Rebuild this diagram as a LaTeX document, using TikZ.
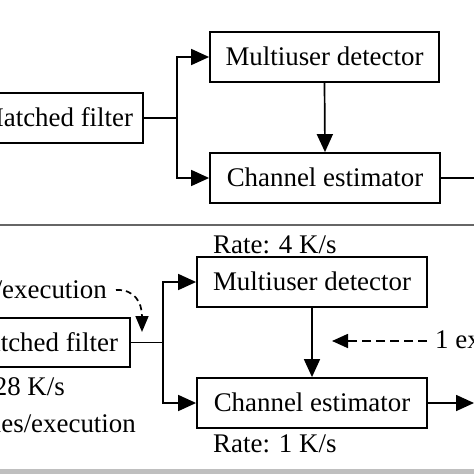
\documentclass[tikz,border=0pt]{standalone}
\usepackage{fontspec}
\setmainfont{Liberation Serif}
\usetikzlibrary{arrows.meta}
\definecolor{sepgray}{gray}{0.4}
\definecolor{bandgray}{gray}{0.75}
\begin{document}
\begin{tikzpicture}[x=1pt,y=-1pt,
  blk/.style={draw, line width=1.8pt, minimum width=229pt, minimum height=50pt, inner sep=0pt,
    text height=17.8pt, text depth=0pt, font=\fontsize{26.9}{30}\selectfont},
  lbl/.style={inner sep=0pt, font=\fontsize{26.9}{30}\selectfont},
  conn/.style={line width=1.7pt},
  arr/.style={conn, -{Triangle[length=18pt,width=16pt]}},
]
\useasboundingbox (0,0) rectangle (474,474);
\clip (0,0) rectangle (474,474);
\fill[white] (0,0) rectangle (474,474);

% ---- top diagram ----
\node[blk, minimum width=173pt] (mf1) at (56.5,118) {Matched filter};
\node[blk] (mud1) at (324.5,57) {Multiuser detector};
\node[blk, minimum width=230pt] (ce1) at (325,178) {Channel estimator};
\coordinate (b1) at (177,118);
\draw[conn] (mf1.east) -- (b1);
\draw[arr] (b1) |- (mud1.west);
\draw[arr] (b1) |- (ce1.west);
\draw[arr] (mud1.south) -- (ce1.north);
\coordinate (o1) at (480,178);
\draw[conn] (ce1.east) -- (o1);

% ---- separator and bottom band ----
\coordinate (s1) at (0,224.5);
\coordinate (s2) at (474,224.5);
\draw[sepgray, line width=2pt] (s1) -- (s2);
\fill[bandgray] (0,468.5) rectangle (474,474);

% ---- bottom diagram ----
\node[blk, minimum width=177pt, minimum height=49pt] (mf2) at (41.5,342.5) {Matched filter};
\node[blk, minimum width=230pt] (mud2) at (312,282) {Multiuser detector};
\node[blk, minimum width=230pt] (ce2) at (312,403) {Channel estimator};
\coordinate (b2) at (163,342.5);
\draw[conn] (mf2.east) -- (b2);
\draw[arr] (b2) |- (mud2.west);
\draw[arr] (b2) |- (ce2.west);
\draw[arr] (mud2.south) -- (ce2.north);
\coordinate (o2) at (474,403);
\draw[arr] (ce2.east) -- (o2);

% labels
\node[lbl, anchor=base west] (r4) at (213,253) {Rate: 4 K/s};
\node[lbl, anchor=base west] (r1) at (213,452) {Rate: 1 K/s};
\node[lbl, anchor=base east] (r128) at (65,395) {Rate: 128 K/s};
\node[lbl, anchor=base east] (se2) at (136,432) {32 samples/execution};
\node[lbl, anchor=base east] (se1) at (107,298) {4 samples/execution};
\node[lbl, anchor=base west] (ex) at (435,348) {1 execution};

% dashed arrows
\coordinate (d1) at (427,341);
\coordinate (d2) at (332,341);
\draw[conn, dash pattern=on 9pt off 5pt, -{Triangle[length=16pt,width=14pt]}] (d1) -- (d2);
\coordinate (c1) at (116,290);
\coordinate (c2) at (142,332);
\draw[conn, dash pattern=on 6pt off 4pt, -{Triangle[length=16pt,width=13pt]}] (c1) .. controls (134,289) and (142,302) .. (c2);
\end{tikzpicture}
\end{document}
